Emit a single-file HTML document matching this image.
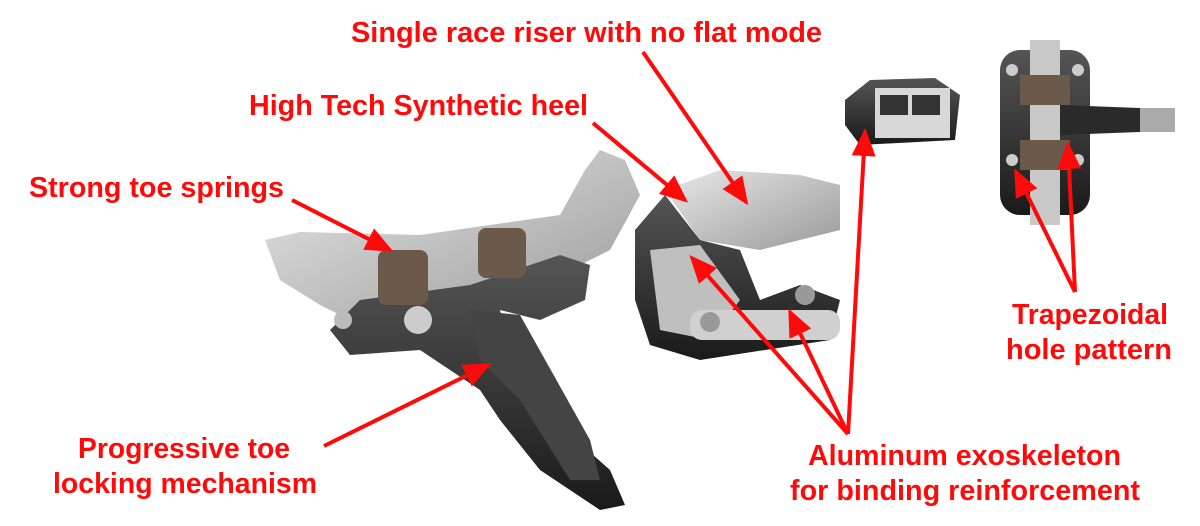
<!DOCTYPE html>
<html><head><style>
html,body{margin:0;padding:0;background:#fff;}
svg{display:block}
text{font-family:"Liberation Sans",sans-serif;font-weight:bold;fill:#ff0a0a;font-size:29px;}
</style></head><body>
<svg width="1200" height="526" viewBox="0 0 1200 526">
<defs>
<marker id="ah" markerWidth="7" markerHeight="6" refX="6" refY="3" orient="auto" markerUnits="strokeWidth">
<path d="M0,0 L7,3 L0,6 z" fill="#ff0a0a"/></marker>
<linearGradient id="al" x1="0" y1="0" x2="1" y2="1"><stop offset="0" stop-color="#e8e8e8"/><stop offset="1" stop-color="#9a9a9a"/></linearGradient>
<linearGradient id="bk" x1="0" y1="0" x2="0" y2="1"><stop offset="0" stop-color="#555"/><stop offset="1" stop-color="#1a1a1a"/></linearGradient>
</defs>
<!-- toe piece -->
<path d="M265,240 L300,232 L420,235 L560,215 L585,170 L600,150 L625,160 L640,195 L610,250 L560,275 L470,300 L350,320 L320,305 L280,280 Z" fill="url(#al)"/>
<path d="M330,330 L360,300 L470,285 L560,255 L590,265 L585,300 L540,320 L500,310 L520,390 L610,470 L625,505 L600,510 L540,470 L500,420 L480,390 L420,350 L350,355 Z" fill="url(#bk)"/>
<rect x="378" y="250" width="50" height="55" rx="8" fill="#6b5a4a"/>
<rect x="478" y="228" width="48" height="50" rx="8" fill="#6b5a4a"/>
<path d="M470,310 L520,315 L590,440 L600,480 L570,480 L520,400 L480,360 Z" fill="#444"/>
<circle cx="418" cy="320" r="14" fill="#ccc"/>
<circle cx="343" cy="320" r="9" fill="#bbb"/>
<!-- heel piece -->
<path d="M665,190 L720,170 L800,175 L840,185 L840,230 L760,250 L700,240 Z" fill="url(#al)"/>
<path d="M635,230 L665,195 L700,240 L740,250 L760,300 L800,285 L840,300 L830,340 L700,360 L650,345 L635,300 Z" fill="url(#bk)"/>
<path d="M650,250 L700,245 L740,300 L710,340 L660,330 Z" fill="#bfbfbf"/>
<rect x="690" y="310" width="150" height="30" rx="12" fill="#d0d0d0"/>
<circle cx="710" cy="322" r="10" fill="#999"/><circle cx="805" cy="295" r="10" fill="#999"/>
<!-- small heel top -->
<path d="M845,100 L870,80 L935,78 L960,95 L955,140 L860,145 L845,125 Z" fill="url(#bk)"/>
<rect x="875" y="88" width="75" height="50" fill="#d8d8d8"/>
<rect x="880" y="95" width="28" height="20" fill="#333"/><rect x="912" y="95" width="28" height="20" fill="#333"/>
<!-- top view toe -->
<rect x="1000" y="50" width="90" height="165" rx="20" fill="url(#bk)"/>
<rect x="1030" y="40" width="30" height="185" fill="#c8c8c8"/>
<rect x="1020" y="75" width="50" height="30" fill="#6b5a4a"/><rect x="1020" y="140" width="50" height="30" fill="#6b5a4a"/>
<path d="M1060,105 L1140,108 L1175,112 L1175,128 L1140,132 L1060,135 Z" fill="#2a2a2a"/>
<rect x="1140" y="108" width="35" height="24" fill="#aaa"/>
<circle cx="1012" cy="70" r="6" fill="#ccc"/><circle cx="1078" cy="70" r="6" fill="#ccc"/>
<circle cx="1012" cy="160" r="6" fill="#ccc"/><circle cx="1078" cy="160" r="6" fill="#ccc"/>
<!-- arrows -->
<g stroke="#ff0a0a" stroke-width="4" fill="none" marker-end="url(#ah)">
<line x1="643" y1="52" x2="746" y2="202"/>
<line x1="593" y1="123" x2="685" y2="200"/>
<line x1="292" y1="200" x2="390" y2="250"/>
<line x1="324" y1="446" x2="488" y2="365"/>
<line x1="848" y1="434" x2="692" y2="258"/>
<line x1="848" y1="434" x2="790" y2="312"/>
<line x1="848" y1="434" x2="865" y2="132"/>
<line x1="1075" y1="292" x2="1016" y2="172"/>
<line x1="1075" y1="292" x2="1068" y2="145"/>
</g>
<!-- labels -->
<text x="351" y="42" textLength="471" lengthAdjust="spacingAndGlyphs">Single race riser with no flat mode</text>
<text x="249" y="115" textLength="339" lengthAdjust="spacingAndGlyphs">High Tech Synthetic heel</text>
<text x="29" y="197" textLength="255" lengthAdjust="spacingAndGlyphs">Strong toe springs</text>
<text x="78" y="458" textLength="212" lengthAdjust="spacingAndGlyphs">Progressive toe</text>
<text x="53" y="493" textLength="264" lengthAdjust="spacingAndGlyphs">locking mechanism</text>
<text x="808" y="465" textLength="313" lengthAdjust="spacingAndGlyphs">Aluminum exoskeleton</text>
<text x="790" y="500" textLength="350" lengthAdjust="spacingAndGlyphs">for binding reinforcement</text>
<text x="1012" y="324" textLength="156" lengthAdjust="spacingAndGlyphs">Trapezoidal</text>
<text x="1006" y="359" textLength="166" lengthAdjust="spacingAndGlyphs">hole pattern</text>
</svg>
</body></html>
